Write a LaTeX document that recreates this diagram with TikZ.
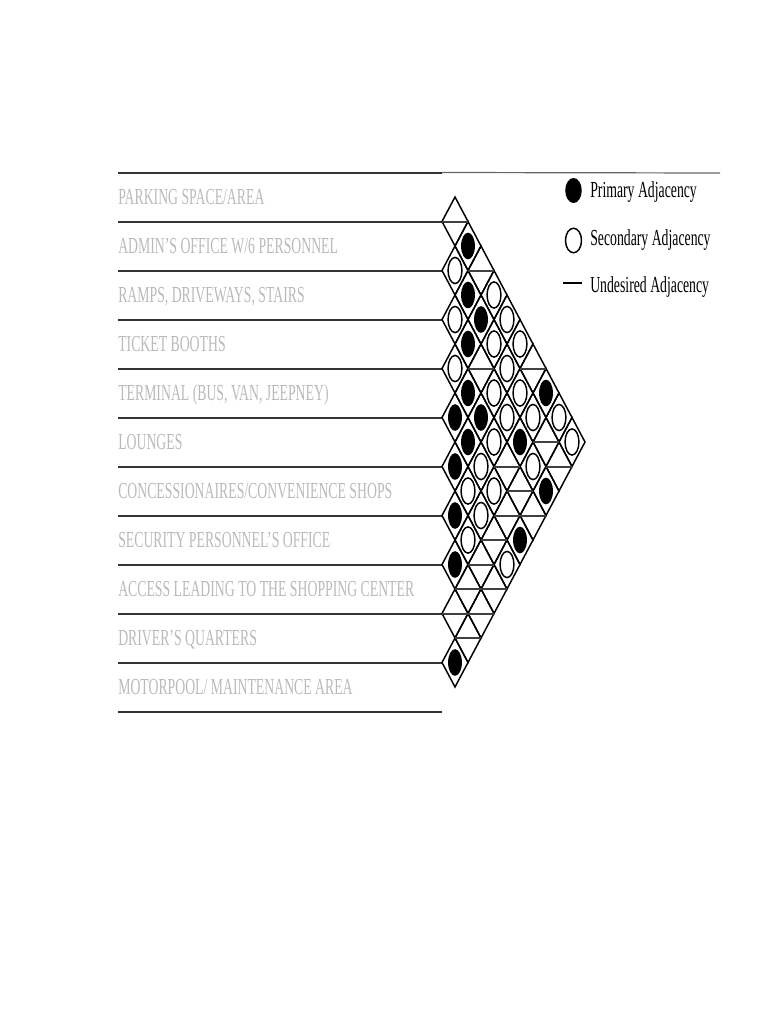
\documentclass[tikz,border=0pt]{standalone}
\usepackage{fontspec}
\setmainfont{Liberation Serif}[FakeStretch=0.6]
\usepackage{tikz}

\begin{document}
\begin{tikzpicture}[x=0.75pt, y=-0.75pt,
  roomtext/.style={anchor=base west, inner sep=0pt, text=black!27, font=\fontsize{17.2}{20}\selectfont},
  keytext/.style={anchor=base west, inner sep=0pt, text=black, font=\fontsize{17.2}{20}\selectfont},
  rowline/.style={black!80, line width=1.5pt},
  cell/.style={black, line width=1.1pt, line join=miter},
  primary/.style={fill=black},
  secondary/.style={draw=black, line width=1.1pt},
  undesired/.style={black!75, line width=1.5pt}]
\useasboundingbox (0,0) rectangle (768,1024);

% table rules
\foreach \n in {0,...,11} {
  \coordinate (A\n) at (118,{172.5+49*\n});
  \coordinate (B\n) at (442,{172.5+49*\n});
  \draw [rowline] (A\n) -- (B\n);
}
\coordinate (E) at (720,173);
\draw [black!60, line width=0.9pt] (B0) -- (E);

% room names
\node (r1)  [roomtext] at (118,204.5) {PARKING SPACE/AREA};
\node (r2)  [roomtext] at (118,253.5) {ADMIN'S OFFICE W/6 PERSONNEL};
\node (r3)  [roomtext] at (118,302.5) {RAMPS, DRIVEWAYS, STAIRS};
\node (r4)  [roomtext] at (118,351.5) {TICKET BOOTHS};
\node (r5)  [roomtext] at (118,400.5) {TERMINAL (BUS, VAN, JEEPNEY)};
\node (r6)  [roomtext] at (118,449.5) {LOUNGES};
\node (r7)  [roomtext] at (118,498.5) {CONCESSIONAIRES/CONVENIENCE SHOPS};
\node (r8)  [roomtext] at (118,547.5) {SECURITY PERSONNEL'S OFFICE};
\node (r9)  [roomtext] at (118,596.5) {ACCESS LEADING TO THE SHOPPING CENTER};
\node (r10) [roomtext] at (118,645.5) {DRIVER'S QUARTERS};
\node (r11) [roomtext] at (118,694.5) {MOTORPOOL/ MAINTENANCE AREA};

% matrix cells
\foreach \i in {1,...,10} {
  \pgfmathtruncatemacro{\jfrom}{\i+1}
  \foreach \j in {\jfrom,...,11} {
    \coordinate (c\i-\j) at ({442+13*(\j-\i)},{197+24.5*(\i+\j-2)});
    \draw [cell] (c\i-\j) ++(-13,0) -- ++(13,-24.5) -- ++(13,24.5) -- ++(-13,24.5) -- cycle;
  }
}

% primary
\foreach \p in {1-3,2-4,2-5,3-5,4-6,1-9,5-6,4-7,5-7,3-9,6-7,3-11,7-8,5-11,8-9,10-11}
  \fill [primary] (c\p) ellipse [x radius=5.2pt, y radius=10pt];
% secondary
\foreach \p in {2-3,1-5,3-4,1-6,2-6,1-7,4-5,2-7,3-7,2-8,3-8,2-9,1-10,4-8,1-11,5-8,3-10,6-8,5-9,6-9,7-9,6-11}
  \draw [secondary] (c\p) ellipse [x radius=5.2pt, y radius=9.8pt];
% undesired
\foreach \p in {1-2,1-4,3-6,1-8,2-10,4-9,2-11,4-10,5-10,4-11,6-10,7-10,8-10,7-11,9-10,8-11,9-11}
  \draw [undesired] (c\p) ++(-13,0) -- ++(26,0);

% key
\coordinate (K1) at (573.5,190.5);
\coordinate (K2) at (573.5,240.5);
\coordinate (K3) at (563,283);
\coordinate (K4) at (582,283);
\fill [primary] (K1) ellipse [x radius=6.2pt, y radius=9.4pt];
\draw [secondary] (K2) ellipse [x radius=6pt, y radius=9.2pt];
\draw [black, line width=1.1pt] (K3) -- (K4);
\node (k1) [keytext] at (590,197) {Primary Adjacency};
\node (k2) [keytext] at (590,245.5) {Secondary Adjacency};
\node (k3) [keytext] at (590,292) {Undesired Adjacency};

\end{tikzpicture}
\end{document}
